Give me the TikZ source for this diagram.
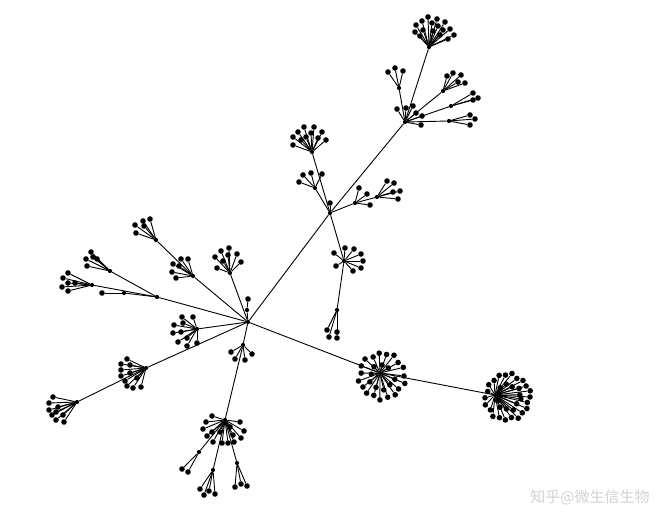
\documentclass[tikz,border=0pt]{standalone}
\usepackage{fontspec}
\newfontfamily\cjkfont{Noto Sans CJK SC}
\newcommand\mkfan[2]{\foreach \x/\y [count=\i] in {#2} {\node[leaf] (#1-\i) at (\x,\y) {}; \draw[edge] (#1) -- (#1-\i);}}
\newcommand\mkring[5]{\foreach \a/\r [count=\i] in {#5} {\node[leaf] (#2-\i) at ([shift={(\a:\r)}]#3,#4) {}; \draw[edge] (#1) -- (#2-\i);}}
\begin{document}
\begin{tikzpicture}[x=1pt,y=-1pt,
  leaf/.style={circle,fill=black,inner sep=0pt,minimum size=5.6pt},
  hub/.style={circle,fill=black,inner sep=0pt,minimum size=4.2pt},
  edge/.style={line width=0.9pt,black}]
\useasboundingbox (0,0) rectangle (665,530);
% hubs
\node[hub] (C) at (248,322) {};
\node[hub] (u1) at (247,310) {};
\node[leaf] (u2) at (248,299) {};
\node[hub] (NE1) at (330,213) {};
\node[hub] (NE2) at (405,122) {};
\node[hub] (T) at (429,47) {};
\node[hub] (A1) at (399,88) {};
\node[hub] (A2) at (443,91) {};
\node[hub] (A3) at (451,106) {};
\node[hub] (A4) at (449,121) {};
\node[hub] (B1) at (312,152) {};
\node[hub] (B2) at (315,188) {};
\node[hub] (B3) at (355,203) {};
\node[hub] (B4) at (377,197) {};
\node[hub] (B5) at (344,261) {};
\node[hub] (B6) at (337,310) {};
\node[leaf] (b0) at (330,203) {};
\node[hub] (L1) at (193,276) {};
\node[hub] (L2) at (156,240) {};
\node[hub] (L3) at (230,273) {};
\node[hub] (L4) at (157,297) {};
\node[hub] (L5) at (110,271) {};
\node[hub] (L6) at (124,293) {};
\node[leaf] (l6) at (102,293) {};
\node[hub] (L7) at (92,285) {};
\node[hub] (L8) at (197,329) {};
\node[hub] (L9) at (146,368) {};
\node[hub] (L10) at (77,402) {};
\node[hub] (D1) at (243,345) {};
\node[hub] (D2) at (225,420) {};
\node[hub] (D3) at (199,452) {};
\node[hub] (D4) at (213,470) {};
\node[hub] (D5) at (237,463) {};
\node[hub] (R1) at (380,373) {};
\node[hub] (R2) at (495,395) {};
% tree edges
\foreach \a/\b in {C/NE1,NE1/NE2,NE2/T,NE2/A1,NE2/A2,NE2/A3,NE2/A4,NE1/B1,NE1/B2,NE1/B3,B3/B4,NE1/B5,B5/B6,NE1/b0,
  C/u1,u1/u2,C/L1,L1/L2,C/L3,C/L4,L4/L5,L4/L6,L6/l6,L4/L7,C/L8,C/L9,L9/L10,C/D1,D1/D2,D2/D3,D2/D4,D2/D5,C/R1,R1/R2}
  \draw[edge] (\a) -- (\b);
% leaves
\mkfan{T}{415/32,416/25,422/21,423/30,428/17,432/23,437/19,438/26,445/22,443/30,450/29,454/35,448/39,433/31,420/36,440/35}
\mkfan{A1}{388/72,395/68,403/71}
\mkfan{A2}{447/76,453/73,461/75,458/82,465/83}
\mkfan{A3}{473/93,478/98,473/100}
\mkfan{A4}{470/115,475/119,470/125}
\mkfan{NE2}{397/109,406/108,413/106,416/113,422/116,421/125}
\mkfan{B1}{293/137,298/132,304/127,314/127,322/132,326/140,293/145,301/140,311/133,318/138,306/137}
\mkfan{B2}{299/182,303/175,311/173,322/174}
\mkfan{B3}{359/188,367/194,370/205}
\mkfan{B4}{387/181,394/183,400/191,393/192,398/199}
\mkfan{B5}{334/253,345/248,354/249,361/254,363/261,361/268,353/271,336/266}
\mkfan{B6}{327/330,329/337,337/332,337/338}
\mkfan{L1}{173/264,172/272,176/278,181/259,188/259,179/266}
\mkfan{L2}{136/233,135/225,143/221,150/219,144/226}
\mkfan{L3}{221/251,229/248,237/254,241/262,217/268,215/257,223/261,228/255}
\mkfan{L5}{91/252,86/259,93/257,87/266,97/259}
\mkfan{L7}{63/278,68/273,68/283,62/287,68/291,75/283}
\mkfan{L8}{182/317,193/317,174/325,183/323,173/333,181/332,178/342,187/338,187/346,197/343}
\mkfan{L9}{127/359,121/364,121/370,121/376,125/381,127/386,133/388,141/387,130/365,130/373,137/378}
\mkfan{L10}{53/397,49/403,49/410,52/415,56/420,64/422,58/407,56/412,63/415}
\mkfan{D1}{231/352,235/359,245/360,252/354}
\mkfan{D2}{212/416,206/422,203/429,207/436,213/442,222/443,228/443,234/442,241/438,244/431,240/422,230/427,220/432,212/432,233/435}
\mkfan{D3}{182/469,188/472}
\mkfan{D4}{200/489,204/495,209/491,215/494}
\mkfan{D5}{235/487,241/484,247/486}
\mkring{R1}{r1o}{382}{376}{0/22,18/24,38/21,55/23,75/22,95/24,113/21,132/23,150/22,168/24,188/21,206/23,225/24,245/21,263/23,282/22,300/24,320/21,338/23}
\mkring{R1}{r1i}{382}{377}{10/13,45/11,82/13,120/12,158/13,195/11,232/13,270/12,305/11}
\mkring{R2}{r2o}{507}{397}{0/23,15/21,30/23,46/22,62/24,78/21,94/23,110/22,126/24,142/21,160/23,178/22,196/20,214/22,232/21,250/23,266/22,282/24,298/21,314/23,330/22,345/24}
\mkring{R2}{r2i}{508}{397}{8/13,38/11,68/14,98/12,128/13,160/11,230/12,262/13,292/11,322/14,350/12}
% watermark
\node[text=gray!35,font=\cjkfont\fontsize{15}{15}\selectfont] (wm) at (590,497) {知乎@微生信生物};
\end{tikzpicture}
\end{document}
